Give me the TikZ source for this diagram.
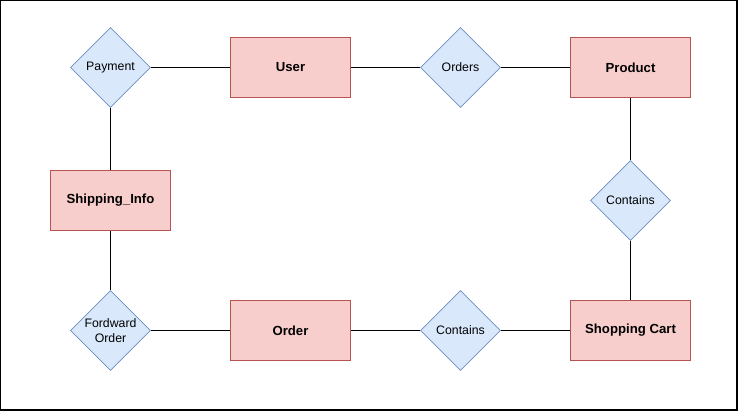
\documentclass[tikz,border=0pt]{standalone}
\usepackage{fontspec}
\setmainfont{Liberation Sans}
\usetikzlibrary{shapes.geometric}
\definecolor{entfill}{HTML}{F8CECC}
\definecolor{entline}{HTML}{B85450}
\definecolor{relfill}{HTML}{DAE8FC}
\definecolor{relline}{HTML}{6C8EBF}
\tikzset{
  entity/.style={rectangle, draw=entline, fill=entfill, minimum width=2.4cm,
    minimum height=1.2cm, font=\fontsize{7.5}{9}\selectfont\bfseries},
  relation/.style={diamond, draw=relline, fill=relfill, minimum width=1.6cm,
    minimum height=1.6cm, inner sep=0pt, align=center,
    font=\fontsize{7}{8.2}\selectfont},
  link/.style={draw, line width=0.6pt}
}
\begin{document}
\begin{tikzpicture}[x=0.02cm, y=-0.02cm]
      \useasboundingbox (0,0) rectangle (742,411);
      \draw[line width=0.8pt] (0.5,0.5) rectangle (737,410);
      % entities
      \node[entity] (user) at (290.5,67.5) {User};
      \node[entity] (product) at (630.5,67.5) {Product};
      \node[entity] (shipping) at (110.5,200.5) {Shipping\_Info};
      \node[entity] (order) at (290.5,330.5) {Order};
      \node[entity] (cart) at (630.5,330.5) {Shopping Cart};
      % relations
      \node[relation] (payment) at (110.5,67.5) {Payment};
      \node[relation] (orders) at (460.5,67.5) {Orders};
      \node[relation] (contains1) at (630.5,200.5) {Contains};
      \node[relation] (contains2) at (460.5,330.5) {Contains};
      \node[relation] (forward) at (110.5,330.5) {Fordward\\Order};
      % links
      \draw[link] (payment) -- (user);
      \draw[link] (user) -- (orders);
      \draw[link] (orders) -- (product);
      \draw[link] (product) -- (contains1);
      \draw[link] (contains1) -- (cart);
      \draw[link] (cart) -- (contains2);
      \draw[link] (contains2) -- (order);
      \draw[link] (order) -- (forward);
      \draw[link] (forward) -- (shipping);
      \draw[link] (shipping) -- (payment);
\end{tikzpicture}
\end{document}
